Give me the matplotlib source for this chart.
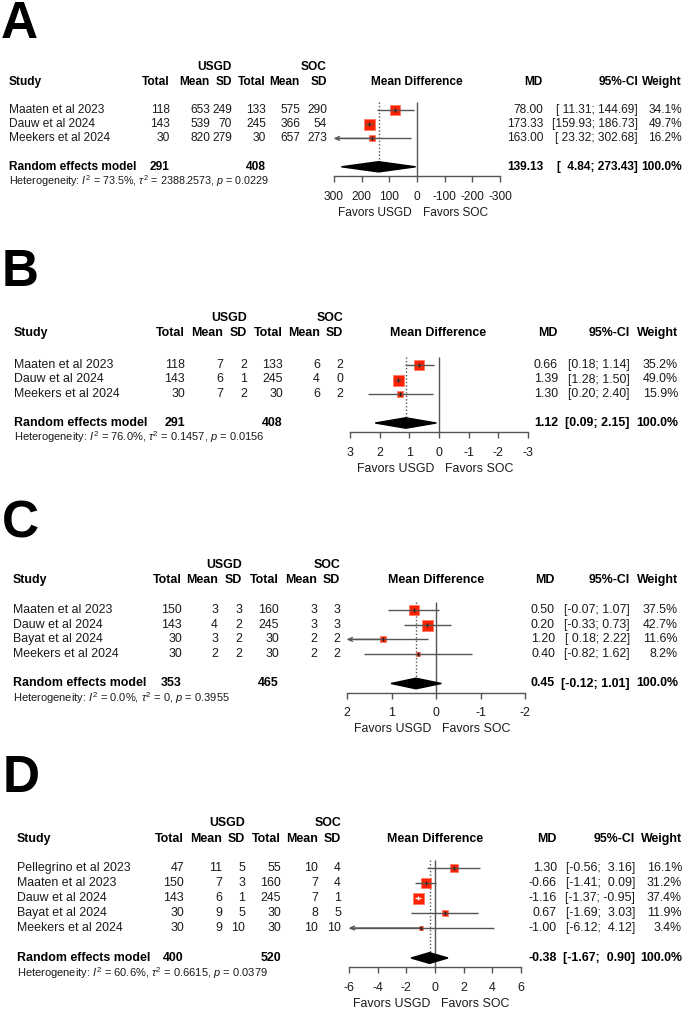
import numpy as np
import matplotlib.pyplot as plt
from matplotlib.patches import Polygon

plt.rcParams["font.family"] = "Liberation Sans"
plt.rcParams["mathtext.fontset"] = "custom"
plt.rcParams["mathtext.rm"] = "Liberation Sans"
plt.rcParams["mathtext.it"] = "Liberation Sans:italic"

# ---- panel A ----
A_STUDY = ["Maaten et al 2023", "Dauw et al 2024", "Meekers et al 2024"]
A_N_USGD = [118, 143, 30]
A_MEAN_USGD = [653, 539, 820]
A_SD_USGD = [249, 70, 279]
A_N_SOC = [133, 245, 30]
A_MEAN_SOC = [575, 366, 657]
A_SD_SOC = [290, 54, 273]
A_MD = [78.00, 173.33, 163.00]
A_LO = [11.31, 159.93, 23.32]
A_HI = [144.69, 186.73, 302.68]
A_WEIGHT = [34.1, 49.7, 16.2]
A_POOLED = [139.13, 4.84, 273.43]
A_TOTALS = [291, 408]
A_HET = ["73.5%", "2388.2573", "0.0229"]
A_TICKS = [300, 200, 100, 0, -100, -200, -300]

# ---- panel B ----
B_STUDY = ["Maaten et al 2023", "Dauw et al 2024", "Meekers et al 2024"]
B_N_USGD = [118, 143, 30]
B_MEAN_USGD = [7, 6, 7]
B_SD_USGD = [2, 1, 2]
B_N_SOC = [133, 245, 30]
B_MEAN_SOC = [6, 4, 6]
B_SD_SOC = [2, 0, 2]
B_MD = [0.66, 1.39, 1.30]
B_LO = [0.18, 1.28, 0.20]
B_HI = [1.14, 1.50, 2.40]
B_WEIGHT = [35.2, 49.0, 15.9]
B_POOLED = [1.12, 0.09, 2.15]
B_TOTALS = [291, 408]
B_HET = ["76.0%", "0.1457", "0.0156"]
B_TICKS = [3, 2, 1, 0, -1, -2, -3]

# ---- panel C ----
C_STUDY = ["Maaten et al 2023", "Dauw et al 2024", "Bayat et al 2024", "Meekers et al 2024"]
C_N_USGD = [150, 143, 30, 30]
C_MEAN_USGD = [3, 4, 3, 2]
C_SD_USGD = [3, 2, 2, 2]
C_N_SOC = [160, 245, 30, 30]
C_MEAN_SOC = [3, 3, 2, 2]
C_SD_SOC = [3, 3, 2, 2]
C_MD = [0.50, 0.20, 1.20, 0.40]
C_LO = [-0.07, -0.33, 0.18, -0.82]
C_HI = [1.07, 0.73, 2.22, 1.62]
C_WEIGHT = [37.5, 42.7, 11.6, 8.2]
C_POOLED = [0.45, -0.12, 1.01]
C_TOTALS = [353, 465]
C_HET = ["0.0%", "0", "0.3955"]
C_TICKS = [2, 1, 0, -1, -2]

# ---- panel D ----
D_STUDY = ["Pellegrino et al 2023", "Maaten et al 2023", "Dauw et al 2024",
           "Bayat et al 2024", "Meekers et al 2024"]
D_N_USGD = [47, 150, 143, 30, 30]
D_MEAN_USGD = [11, 7, 6, 9, 9]
D_SD_USGD = [5, 3, 1, 5, 10]
D_N_SOC = [55, 160, 245, 30, 30]
D_MEAN_SOC = [10, 7, 7, 8, 10]
D_SD_SOC = [4, 4, 1, 5, 10]
D_MD = [1.30, -0.66, -1.16, 0.67, -1.00]
D_LO = [-0.56, -1.41, -1.37, -1.69, -6.12]
D_HI = [3.16, 0.09, -0.95, 3.03, 4.12]
D_WEIGHT = [16.1, 31.2, 37.4, 11.9, 3.4]
D_POOLED = [-0.38, -1.67, 0.90]
D_TOTALS = [400, 520]
D_HET = ["60.6%", "0.6615", "0.0379"]
D_TICKS = [-6, -4, -2, 0, 2, 4, 6]

W, H = 685, 1011
LINE = "#555555"
BOX = "#ff2200"


def ci_strings(lo, hi):
    wl = max(len(f"{v:.2f}") for v in lo)
    wh = max(len(f"{v:.2f}") for v in hi)
    return [f"[{a:{wl}.2f}; {b:{wh}.2f}]" for a, b in zip(lo, hi)]


def draw_panel(fig, bg, letter, study, n1, m1, s1, n2, m2, s2, md, lo, hi, wt,
               pooled, totals, het, ticks, lay):
    fs = lay["fs"]
    n = len(study)
    r0, dy = lay["row0"], lay["dy"]
    ypix = lambda i: r0 + i * dy
    c = lay["cols"]

    bg.text(lay["lx"], lay["ltop"], letter, fontsize=37, fontweight="bold", ha="left", va="top")

    hb = dict(fontsize=fs, fontweight="bold", va="center")
    bg.text(c[3], lay["grp_y"], "USGD", ha="right", **hb)
    bg.text(c[6], lay["grp_y"], "SOC", ha="right", **hb)
    bg.text(c[0], lay["hdr_y"], "Study", ha="left", **hb)
    for x, lab in zip(c[1:], ["Total", "Mean", "SD", "Total", "Mean", "SD"]):
        bg.text(x, lay["hdr_y"], lab, ha="right", **hb)
    bg.text(lay["md_hdr"], lay["hdr_y"], "Mean Difference", ha="center", **hb)
    bg.text(lay["md_r"], lay["hdr_y"], "MD", ha="right", **hb)
    bg.text(lay["ci_r"], lay["hdr_y"], "95%-CI", ha="right", **hb)
    bg.text(lay["w_r"], lay["hdr_y"], "Weight", ha="right", **hb)

    cis = ci_strings(list(lo) + [pooled[1]], list(hi) + [pooled[2]])
    tb = dict(fontsize=fs, va="center", color="#1a1a1a")
    for i in range(n):
        y = ypix(i)
        bg.text(c[0], y, study[i], ha="left", **tb)
        for x, v in zip(c[1:], [n1[i], m1[i], s1[i], n2[i], m2[i], s2[i]]):
            bg.text(x, y, str(v), ha="right", **tb)
        bg.text(lay["md_r"], y, f"{md[i]:.2f}", ha="right", **tb)
        bg.text(lay["ci_r"], y, cis[i], ha="right", **tb)
        bg.text(lay["w_r"], y, f"{wt[i]:.1f}%", ha="right", **tb)

    ys = ypix(n + 1)
    bg.text(c[0], ys, "Random effects model", ha="left", **hb)
    bg.text(c[1], ys, str(totals[0]), ha="right", **hb)
    bg.text(c[4], ys, str(totals[1]), ha="right", **hb)
    bg.text(lay["md_r"], ys, f"{pooled[0]:.2f}", ha="right", **hb)
    bg.text(lay["ci_r"], ys, cis[-1], ha="right", **hb)
    bg.text(lay["w_r"], ys, "100.0%", ha="right", **hb)
    bg.text(c[0], ypix(n + 2),
            rf"Heterogeneity: $I^2$ = {het[0]}, $\tau^2$ = {het[1]}, $p$ = {het[2]}",
            ha="left", va="center", fontsize=fs * 0.9, color="#1a1a1a")

    # forest axes
    xl, xr = lay["fx"]
    top_px = r0 - 0.7 * dy
    bot_px = ys + lay["axgap"]
    ax = fig.add_axes([xl / W, 1 - bot_px / H, (xr - xl) / W, (bot_px - top_px) / H])
    ax.patch.set_alpha(0)
    ax.set_xlim(ticks[0], ticks[-1])
    ax.set_ylim((bot_px - r0) / dy, -0.7)
    for sp in ["top", "left", "right"]:
        ax.spines[sp].set_visible(False)
    ax.spines["bottom"].set_color(LINE)
    ax.spines["bottom"].set_linewidth(1.0)
    ax.set_yticks([])
    ax.set_xticks(ticks)
    ax.set_xticklabels([str(t) for t in ticks])
    ax.tick_params(axis="x", length=4.3, width=1.0, color=LINE, labelsize=fs,
                   labelcolor="#1a1a1a", pad=6.5)

    lim_lo, lim_hi = min(ticks), max(ticks)
    scale = (xr - xl) / (lim_hi - lim_lo)
    wmax = max(wt)
    ybot = (bot_px - r0) / dy
    ax.vlines(0, -0.55, ybot, color=LINE, lw=1.0, zorder=1)
    hd = 0.36
    ax.vlines(pooled[0], -0.55, n + 1 - hd, color=LINE, lw=1.0, linestyles=(0, (1, 1.5)), zorder=1)

    for i in range(n):
        side = 11.0 * np.sqrt(wt[i] / wmax)
        ax.scatter([md[i]], [i], s=(side * 0.72) ** 2, marker="s", color=BOX,
                   edgecolors="#ff7a66", linewidths=0.6, zorder=2)
        a, b = max(lo[i], lim_lo), min(hi[i], lim_hi)
        inside = (hi[i] - lo[i]) * scale < 0.57 * side
        col = "white" if inside else LINE
        ax.hlines(i, a, b, color=col, lw=1.0, zorder=3)
        ax.plot([md[i]], [i], marker="|", ms=3.2, mew=1.0,
                color="white" if inside else "#222222", zorder=4)
        for end in (lo[i], hi[i]):
            if end < lim_lo or end > lim_hi:
                lim = lim_lo if end < lim_lo else lim_hi
                ax.annotate("", xy=(lim, i), xytext=(md[i], i),
                            arrowprops=dict(arrowstyle="->", color=LINE, lw=1.0,
                                            shrinkA=0, shrinkB=0, mutation_scale=7),
                            annotation_clip=False)
    ax.add_patch(Polygon([[pooled[1], n + 1], [pooled[0], n + 1 - hd],
                          [pooled[2], n + 1], [pooled[0], n + 1 + hd]],
                         closed=True, color="black", zorder=3, clip_on=False))

    ax.annotate("Favors USGD", xy=(0, 0), xycoords=("data", "axes fraction"),
                xytext=(-3.5, -26.5), textcoords="offset points", ha="right", va="center",
                fontsize=fs, color="#1a1a1a")
    ax.annotate("Favors SOC", xy=(0, 0), xycoords=("data", "axes fraction"),
                xytext=(4, -26.5), textcoords="offset points", ha="left", va="center",
                fontsize=fs, color="#1a1a1a")


fig = plt.figure(figsize=(W / 100, H / 100), dpi=100)
bg = fig.add_axes([0, 0, 1, 1])
bg.set_xlim(0, W)
bg.set_ylim(H, 0)
bg.axis("off")

LAY_A = dict(lx=1, ltop=0, fs=8.6, grp_y=67, hdr_y=82, row0=110, dy=14.2,
             cols=[9, 170, 210, 232, 266, 300, 327], fx=(334, 500),
             md_hdr=417, md_r=543, ci_r=638, w_r=682, axgap=9)
LAY_B = dict(lx=2, ltop=248, fs=8.9, grp_y=318, hdr_y=333, row0=365, dy=14.5,
             cols=[14, 185, 223, 247, 283, 320, 343], fx=(350, 528),
             md_hdr=438, md_r=558, ci_r=630, w_r=678, axgap=9)
LAY_C = dict(lx=2, ltop=499, fs=8.9, grp_y=565, hdr_y=580, row0=610, dy=14.7,
             cols=[13, 182, 218, 242, 279, 317, 340], fx=(347, 525),
             md_hdr=436, md_r=555, ci_r=630, w_r=678, axgap=9)
LAY_D = dict(lx=3, ltop=754, fs=8.9, grp_y=823, hdr_y=839, row0=868, dy=15.0,
             cols=[17, 184, 222, 245, 281, 318, 341], fx=(349, 521),
             md_hdr=435, md_r=557, ci_r=635, w_r=682, axgap=9)

draw_panel(fig, bg, "A", A_STUDY, A_N_USGD, A_MEAN_USGD, A_SD_USGD, A_N_SOC, A_MEAN_SOC, A_SD_SOC,
           A_MD, A_LO, A_HI, A_WEIGHT, A_POOLED, A_TOTALS, A_HET, A_TICKS, LAY_A)
draw_panel(fig, bg, "B", B_STUDY, B_N_USGD, B_MEAN_USGD, B_SD_USGD, B_N_SOC, B_MEAN_SOC, B_SD_SOC,
           B_MD, B_LO, B_HI, B_WEIGHT, B_POOLED, B_TOTALS, B_HET, B_TICKS, LAY_B)
draw_panel(fig, bg, "C", C_STUDY, C_N_USGD, C_MEAN_USGD, C_SD_USGD, C_N_SOC, C_MEAN_SOC, C_SD_SOC,
           C_MD, C_LO, C_HI, C_WEIGHT, C_POOLED, C_TOTALS, C_HET, C_TICKS, LAY_C)
draw_panel(fig, bg, "D", D_STUDY, D_N_USGD, D_MEAN_USGD, D_SD_USGD, D_N_SOC, D_MEAN_SOC, D_SD_SOC,
           D_MD, D_LO, D_HI, D_WEIGHT, D_POOLED, D_TOTALS, D_HET, D_TICKS, LAY_D)

fig.savefig("out.png", dpi=100)
